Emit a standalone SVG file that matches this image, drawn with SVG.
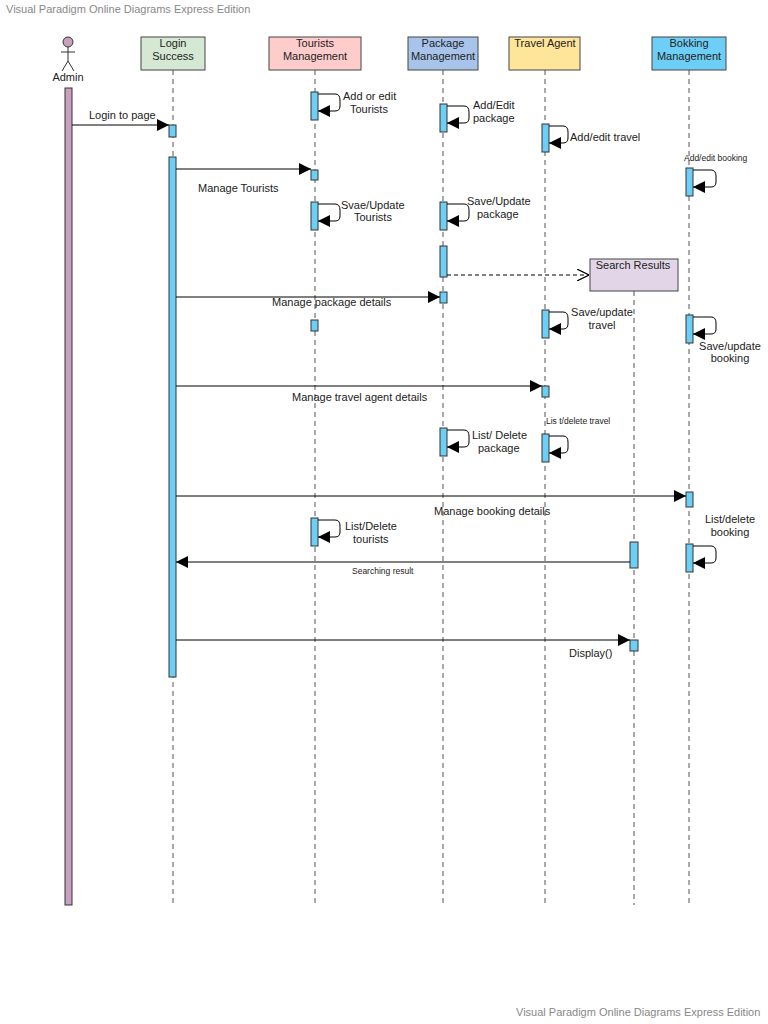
<svg xmlns="http://www.w3.org/2000/svg" width="768" height="1024" viewBox="0 0 768 1024">
<style>
text{font-family:"Liberation Sans",Arial,sans-serif;font-size:11px;fill:#222}
.wm{fill:#888;font-size:11px}
.hd{stroke:#444;stroke-width:1}
.ll{stroke:#555;stroke-dasharray:5,4;fill:none}
.bar{fill:#6ecff6;stroke:#333;stroke-width:1}
.msg{stroke:#000;fill:none;stroke-width:1}
.sm{font-size:8.5px}
</style>
<defs>
<marker id="fa" viewBox="0 0 10 10" refX="10" refY="5" markerWidth="12" markerHeight="12" markerUnits="userSpaceOnUse" orient="auto"><path d="M0,0L10,5L0,10z" fill="#000"/></marker>
<marker id="oa" viewBox="0 0 10 10" refX="10" refY="5" markerWidth="12" markerHeight="12" markerUnits="userSpaceOnUse" orient="auto"><path d="M0,0L10,5L0,10" fill="none" stroke="#000"/></marker>
</defs>
<text class="wm" x="6" y="13">Visual Paradigm Online Diagrams Express Edition</text>
<text class="wm" x="516" y="1016">Visual Paradigm Online Diagrams Express Edition</text>

<g id="lifelines">
<line class="ll" x1="173" y1="70" x2="173" y2="905"/>
<line class="ll" x1="315" y1="70" x2="315" y2="905"/>
<line class="ll" x1="443" y1="70" x2="443" y2="905"/>
<line class="ll" x1="545" y1="70" x2="545" y2="905"/>
<line class="ll" x1="689" y1="70" x2="689" y2="905"/>
<line class="ll" x1="634" y1="291" x2="634" y2="905"/>
</g>

<g id="admin">
<circle cx="68" cy="42" r="5" fill="#c9a0c0" stroke="#333"/>
<path d="M68,47V61M61,52H75M68,61L62,71M68,61L74,71" stroke="#333" fill="none"/>
<text x="68" y="81" text-anchor="middle">Admin</text>
<rect x="65" y="88" width="7" height="817" fill="#c9a0c0" stroke="#333"/>
</g>
<g id="login"><rect class="hd" x="141" y="37" width="64" height="33" fill="#d5e8d4"/><text x="173" y="47" text-anchor="middle">Login</text><text x="173" y="60" text-anchor="middle">Success</text>
<rect class="bar" x="169" y="125" width="7" height="12"/><rect class="bar" x="169" y="157" width="7" height="520"/></g>
<g id="tourists"><rect class="hd" x="269" y="37" width="92" height="33" fill="#ffcccc"/><text x="315" y="47" text-anchor="middle">Tourists</text><text x="315" y="60" text-anchor="middle">Management</text></g>
<g id="package"><rect class="hd" x="408" y="37" width="70" height="33" fill="#a9c4eb"/><text x="443" y="47" text-anchor="middle">Package</text><text x="443" y="60" text-anchor="middle">Management</text></g>
<g id="travel"><rect class="hd" x="509" y="37" width="71" height="33" fill="#ffe599"/><text x="545" y="47" text-anchor="middle">Travel Agent</text></g>
<g id="booking"><rect class="hd" x="652" y="37" width="74" height="33" fill="#6ecff6"/><text x="689" y="47" text-anchor="middle">Bokking</text><text x="689" y="60" text-anchor="middle">Management</text></g>
<g id="search"><rect class="hd" x="590" y="259" width="88" height="32" fill="#e1d5e7"/><text x="633" y="269" text-anchor="middle">Search Results</text>
<rect class="bar" x="630" y="542" width="8" height="26"/><rect class="bar" x="630" y="640" width="8" height="11"/></g>

<g id="bars">
<rect class="bar" x="311" y="92" width="7" height="28"/>
<rect class="bar" x="311" y="170" width="7" height="10"/>
<rect class="bar" x="311" y="202" width="7" height="28"/>
<rect class="bar" x="311" y="320" width="7" height="11"/>
<rect class="bar" x="311" y="518" width="7" height="28"/>
<rect class="bar" x="440" y="104" width="7" height="28"/>
<rect class="bar" x="440" y="202" width="7" height="28"/>
<rect class="bar" x="440" y="246" width="7" height="31"/>
<rect class="bar" x="440" y="292" width="7" height="11"/>
<rect class="bar" x="440" y="428" width="7" height="28"/>
<rect class="bar" x="542" y="124" width="7" height="28"/>
<rect class="bar" x="542" y="310" width="7" height="28"/>
<rect class="bar" x="542" y="386" width="7" height="11"/>
<rect class="bar" x="542" y="434" width="7" height="28"/>
<rect class="bar" x="686" y="168" width="7" height="28"/>
<rect class="bar" x="686" y="315" width="7" height="28"/>
<rect class="bar" x="686" y="492" width="7" height="15"/>
<rect class="bar" x="686" y="544" width="7" height="28"/>
</g>

<g id="connectors">
<path class="msg" marker-end="url(#fa)" d="M318,94H335Q340,94 340,100V106Q340,111 335,111H318"/>
<path class="msg" marker-end="url(#fa)" d="M318,204H335Q340,204 340,210V216Q340,221 335,221H318"/>
<path class="msg" marker-end="url(#fa)" d="M318,520H335Q340,520 340,526V532Q340,537 335,537H318"/>
<path class="msg" marker-end="url(#fa)" d="M447,106H464Q469,106 469,112V118Q469,123 464,123H447"/>
<path class="msg" marker-end="url(#fa)" d="M447,204H464Q469,204 469,210V216Q469,221 464,221H447"/>
<path class="msg" marker-end="url(#fa)" d="M447,430H464Q469,430 469,436V442Q469,447 464,447H447"/>
<path class="msg" marker-end="url(#fa)" d="M549,126H563Q568,126 568,132V138Q568,143 563,143H549"/>
<path class="msg" marker-end="url(#fa)" d="M549,312H563Q568,312 568,318V324Q568,329 563,329H549"/>
<path class="msg" marker-end="url(#fa)" d="M549,436H563Q568,436 568,442V448Q568,453 563,453H549"/>
<path class="msg" marker-end="url(#fa)" d="M693,170H711Q716,170 716,176V182Q716,187 711,187H693"/>
<path class="msg" marker-end="url(#fa)" d="M693,317H711Q716,317 716,323V329Q716,334 711,334H693"/>
<path class="msg" marker-end="url(#fa)" d="M693,546H711Q716,546 716,552V558Q716,563 711,563H693"/>
<line class="msg" marker-end="url(#fa)" x1="72" y1="125" x2="169" y2="125"/>
<line class="msg" marker-end="url(#fa)" x1="176" y1="169" x2="311" y2="169"/>
<line class="msg" marker-end="url(#fa)" x1="176" y1="297" x2="440" y2="297"/>
<line class="msg" marker-end="url(#fa)" x1="176" y1="386" x2="542" y2="386"/>
<line class="msg" marker-end="url(#fa)" x1="176" y1="496" x2="686" y2="496"/>
<line class="msg" marker-end="url(#fa)" x1="630" y1="562" x2="176" y2="562"/>
<line class="msg" marker-end="url(#fa)" x1="176" y1="640" x2="630" y2="640"/>
<line class="msg" marker-end="url(#oa)" stroke-dasharray="4,3" x1="447" y1="275" x2="589" y2="275"/>
</g>

<g id="labels">
<text x="343" y="100">Add or edit</text><text x="350" y="113">Tourists</text>
<text x="341" y="209">Svae/Update</text><text x="354" y="221">Tourists</text>
<text x="345" y="530">List/Delete</text><text x="353" y="543">tourists</text>
<text x="473" y="109">Add/Edit</text><text x="473" y="122">package</text>
<text x="467" y="205">Save/Update</text><text x="477" y="218">package</text>
<text x="472" y="439">List/ Delete</text><text x="478" y="452">package</text>
<text x="570" y="141">Add/edit travel</text>
<text x="602" y="316" text-anchor="middle">Save/update</text><text x="602" y="329" text-anchor="middle">travel</text>
<text class="sm" x="546" y="424">Lis t/delete travel</text>
<text class="sm" x="684" y="161">Add/edit booking</text>
<text x="730" y="350" text-anchor="middle">Save/update</text><text x="730" y="362" text-anchor="middle">booking</text>
<text x="730" y="523" text-anchor="middle">List/delete</text><text x="730" y="536" text-anchor="middle">booking</text>
<text x="89" y="119">Login to page</text>
<text x="198" y="192">Manage Tourists</text>
<text x="272" y="306">Manage package details</text>
<text x="292" y="401">Manage travel agent details</text>
<text x="434" y="515">Manage booking details</text>
<text class="sm" x="352" y="574">Searching result</text>
<text x="569" y="657">Display()</text>
</g>
</svg>
